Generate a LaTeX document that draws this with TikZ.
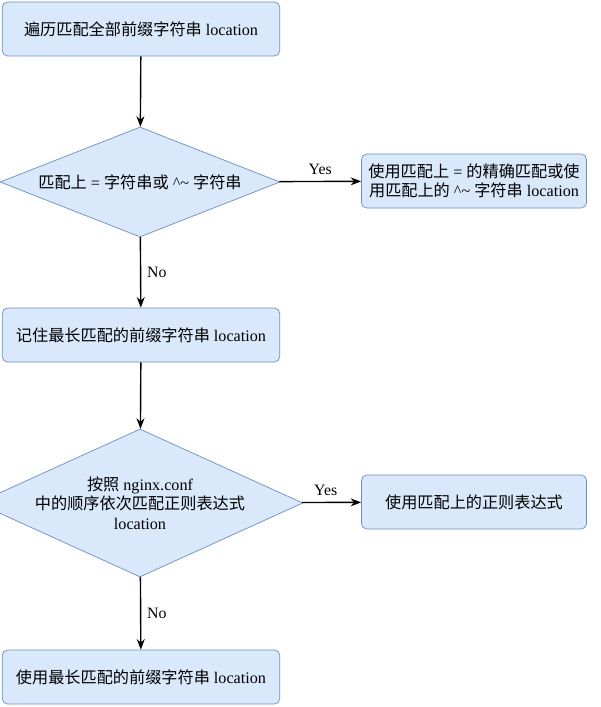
\documentclass[tikz,border=0pt]{standalone}
\usepackage{fontspec}
\setmainfont{Liberation Serif}
\newfontfamily\cjk{Noto Sans CJK SC}
\newcommand{\zh}[1]{{\cjk #1}}
\usetikzlibrary{shapes.geometric,arrows.meta}
\definecolor{nodefill}{HTML}{DAE8FC}
\definecolor{nodeline}{HTML}{6C8EBF}

\begin{document}
\begin{tikzpicture}
    [
    x=0.02cm, y=-0.02cm
    , box/.style = {draw=nodeline, fill=nodefill, rounded corners=3pt, minimum width=5.55cm, minimum height=1.08cm, font=\fontsize{9.2}{11}\selectfont, align=center}
    , rbox/.style = {box, minimum width=4.5cm}
    , dia/.style = {draw=nodeline, fill=nodefill, diamond, minimum width=5.6cm, inner sep=0pt, font=\fontsize{9.2}{11}\selectfont, align=center}
    , arr/.style = {-{Stealth[length=6pt]}, thick}
    , lbl/.style = {font=\fontsize{9}{10}\selectfont}
    ]
\useasboundingbox (0,0) rectangle (600,707);

\node[box] (scan) at (141,29) {\zh{遍历匹配全部前缀字符串} location};
\node[dia, aspect=2.55, minimum height=2.2cm] (exact) at (140,182) {\zh{匹配上} = \zh{字符串或} \textasciicircum\textasciitilde{} \zh{字符串}};
\node[rbox] (useexact) at (474,181) {\zh{使用匹配上} = \zh{的精确匹配或使}\\\zh{用匹配上的} \textasciicircum\textasciitilde{} \zh{字符串} location};
\node[box] (remember) at (141,335) {\zh{记住最长匹配的前缀字符串} location};
\node[dia, aspect=2.2, minimum height=2.54cm] (regex) at (140,503) {\zh{按照} nginx.conf\\\zh{中的顺序依次匹配正则表达式}\\location};
\node[rbox] (useregex) at (474,502) {\zh{使用匹配上的正则表达式}};
\node[box] (uselong) at (141,677) {\zh{使用最长匹配的前缀字符串} location};

\draw[arr] (scan) -- (exact);
\draw[arr] (exact) -- node[lbl, above, pos=0.5] {Yes} (useexact);
\draw[arr] (exact) -- node[lbl, right, pos=0.5] {No} (remember);
\draw[arr] (remember) -- (regex);
\draw[arr] (regex) -- node[lbl, above, pos=0.4] {Yes} (useregex);
\draw[arr] (regex) -- node[lbl, right, pos=0.5] {No} (uselong);
\end{tikzpicture}
\end{document}
